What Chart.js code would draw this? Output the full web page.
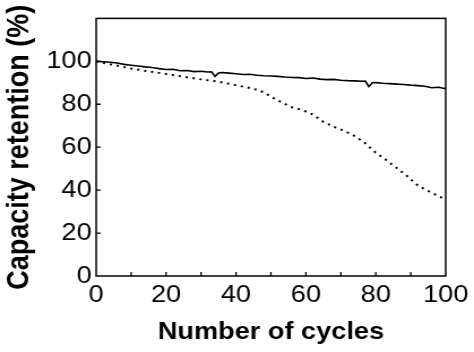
<!DOCTYPE html>
<html>
<head>
<meta charset="utf-8">
<script src="https://cdn.jsdelivr.net/npm/chart.js@4/dist/chart.umd.min.js"></script>
<style>
  html, body { margin: 0; padding: 0; background: #fff; }
  #myChart { display: block; }
</style>
</head>
<body>
<!-- the original figure is a bit stretched sideways, so draw narrower and widen with css -->
<canvas id="myChart" width="419" height="352" style="width:474px;height:352px"></canvas>
<script>
// DATA
const cycleTicks = [0, 20, 40, 60, 80, 100];
const retentionTicks = [0, 20, 40, 60, 80, 100];

const solidCycles = [0, 2, 4, 6, 8, 10, 12, 14, 16, 18, 20, 22, 24, 26, 28, 30, 32, 33, 34, 35, 36, 38, 40, 42, 44, 46, 48, 50, 52, 54, 56, 58, 60, 62, 64, 66, 68, 70, 72, 74, 76, 77, 78, 79, 80, 82, 84, 86, 88, 90, 92, 94, 96, 98, 100];
const solidRetention = [100, 99.8, 99.6, 99.2, 98.6, 98.2, 97.8, 97.4, 97.1, 96.6, 96.2, 96.3, 95.6, 95.7, 95.2, 95.4, 95.0, 95.1, 93.0, 94.6, 94.8, 94.5, 94.2, 93.9, 94.0, 93.5, 93.3, 93.2, 93.0, 92.7, 92.5, 92.4, 92.0, 92.2, 91.7, 91.5, 91.6, 91.2, 91.0, 90.9, 90.7, 90.8, 88.2, 90.0, 90.1, 89.8, 89.6, 89.4, 89.2, 88.9, 88.7, 88.4, 87.7, 87.9, 87.2];

const dottedCycles = [0, 5, 10, 15, 20, 25, 30, 35, 40, 45, 48, 50, 53, 56, 59, 62, 65, 68, 71, 74, 77, 80, 83, 86, 89, 92, 95, 98, 100];
const dottedRetention = [100, 98.3, 96.7, 95.3, 94.1, 92.8, 91.6, 90.5, 88.9, 87.2, 85.6, 83.5, 80.9, 78.6, 77.3, 75.2, 71.8, 69.5, 67.6, 65.2, 61.8, 57.4, 54.0, 50.3, 46.5, 42.2, 39.6, 37.2, 35.5];

function toPoints(xs, ys) {
  return xs.map((x, i) => ({ x: x, y: ys[i] }));
}

const FONT = "'Liberation Sans', Arial, Helvetica, sans-serif";

// box around the plot plus small inward tick marks
const frameAndTicks = {
  id: "frameAndTicks",
  afterDraw(chart) {
    const ctx = chart.ctx;
    const area = chart.chartArea;
    const xs = chart.scales.x;
    const ys = chart.scales.y;
    ctx.save();
    ctx.strokeStyle = "#000";
    ctx.lineWidth = 1.3;
    ctx.beginPath();
    for (let v = 10; v < 100; v += 10) {
      const px = xs.getPixelForValue(v);
      ctx.moveTo(px, area.bottom);
      ctx.lineTo(px, area.bottom - 4);
    }
    for (let v = 20; v <= 100; v += 20) {
      const py = ys.getPixelForValue(v);
      ctx.moveTo(area.left, py);
      ctx.lineTo(area.left + 4, py);
    }
    ctx.stroke();
    ctx.lineWidth = 1.5;
    ctx.strokeRect(area.left, area.top, area.right - area.left, area.bottom - area.top);
    ctx.restore();
  },
};

const ctx = document.getElementById("myChart");
const myChart = new Chart(ctx, {
  type: "line",
  data: {
    datasets: [
      {
        data: toPoints(solidCycles, solidRetention),
        borderColor: "#000",
        borderWidth: 1.6,
        pointRadius: 0,
        tension: 0,
      },
      {
        data: toPoints(dottedCycles, dottedRetention),
        borderColor: "#000",
        borderWidth: 2,
        borderDash: [2, 4.2],
        pointRadius: 0,
        tension: 0,
      },
    ],
  },
  options: {
    responsive: false,
    animation: false,
    devicePixelRatio: 1,
    layout: { padding: { top: 8, right: 25, left: 0, bottom: 0 } },
    plugins: { legend: { display: false }, tooltip: { enabled: false } },
    scales: {
      x: {
        type: "linear",
        min: 0,
        max: 100,
        grid: { display: false, drawTicks: false },
        border: { display: false },
        afterBuildTicks: (scale) => {
          scale.ticks = cycleTicks.map((v) => ({ value: v }));
        },
        afterFit: (scale) => {
          scale.height = 76;
        },
        ticks: {
          color: "#000",
          padding: 5,
          maxRotation: 0,
          font: { family: FONT, size: 24 },
        },
        title: {
          display: true,
          text: "Number of cycles",
          color: "#000",
          padding: { top: 0, bottom: 5 },
          font: { family: FONT, size: 24, weight: "bold" },
        },
      },
      y: {
        min: 0,
        max: 120,
        grid: { display: false, drawTicks: false },
        border: { display: false },
        afterBuildTicks: (scale) => {
          scale.ticks = retentionTicks.map((v) => ({ value: v }));
        },
        afterFit: (scale) => {
          scale.width = 85;
        },
        ticks: {
          color: "#000",
          padding: 4,
          font: { family: FONT, size: 24 },
        },
        title: {
          display: true,
          text: "Capacity retention (%)",
          color: "#000",
          padding: { top: 1, bottom: 0 },
          font: { family: FONT, size: 27, weight: "bold" },
        },
      },
    },
  },
  plugins: [frameAndTicks],
});
</script>
</body>
</html>
